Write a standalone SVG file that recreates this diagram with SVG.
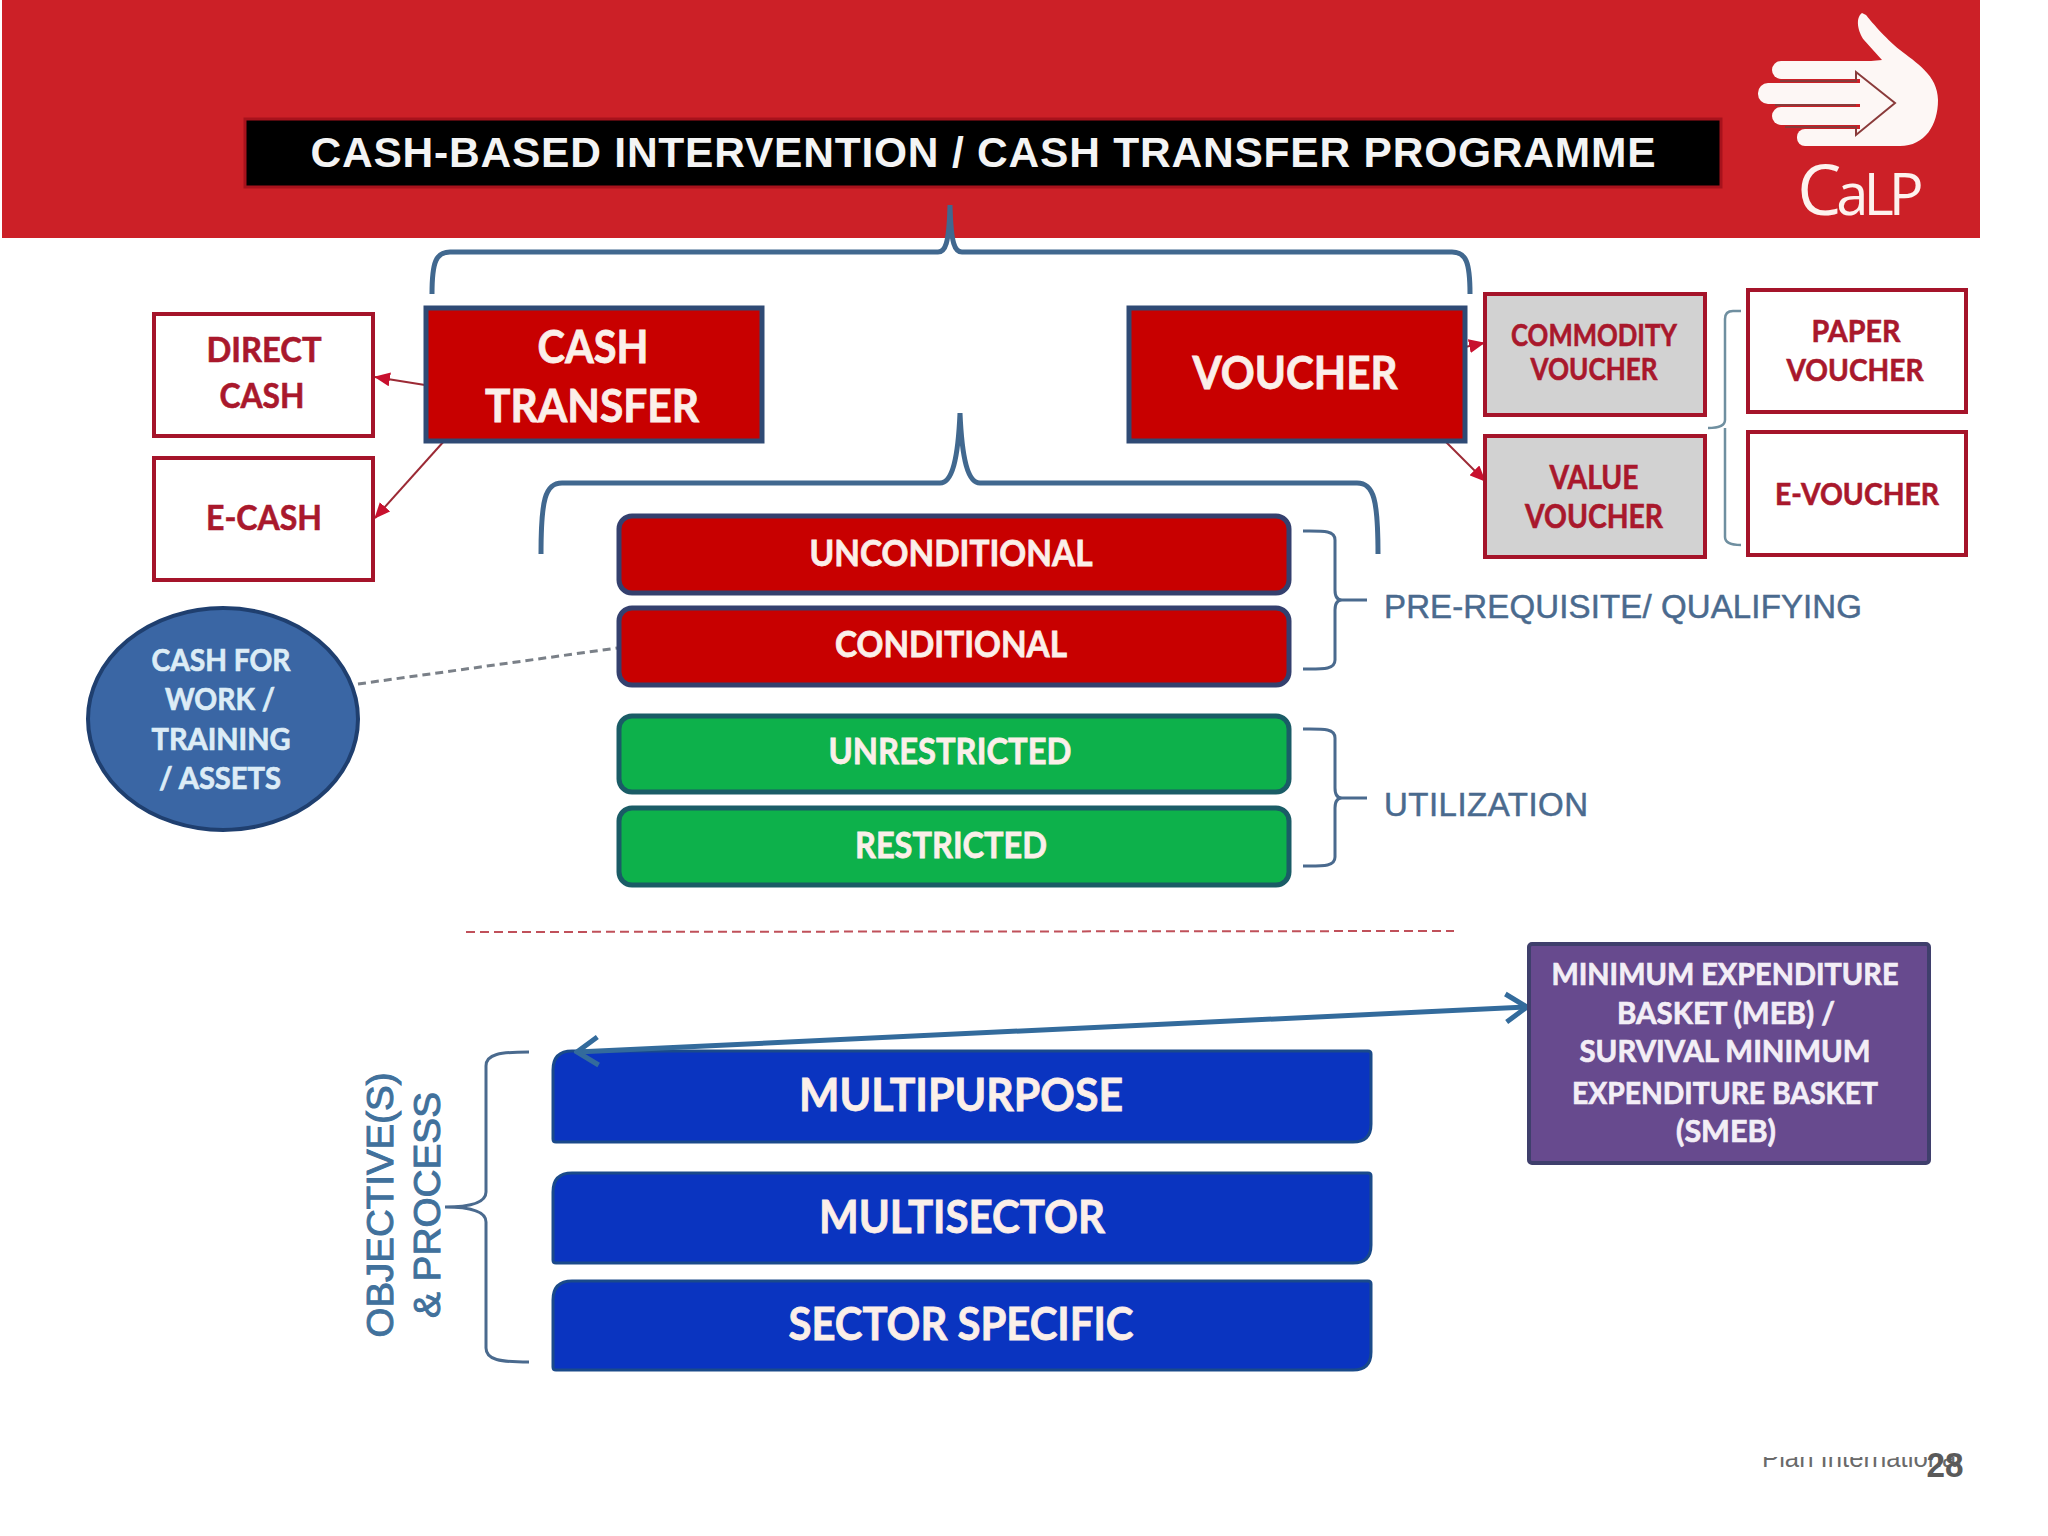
<svg xmlns="http://www.w3.org/2000/svg" width="2048" height="1536" viewBox="0 0 2048 1536">
<style>
text{font-family:"Lato","Open Sans","Liberation Sans",sans-serif;font-weight:700;text-anchor:middle}
.w{fill:#fbefe9;stroke:#fbefe9;stroke-width:.8}
.r{fill:#a9182c;stroke:#a9182c;stroke-width:.6}
.e{fill:#f3eef6;stroke:#f3eef6;stroke-width:.7}
.c{fill:#dcecf6;stroke:#dcecf6;stroke-width:.7}
.b{fill:#4a6a8e;stroke:#4a6a8e;stroke-width:.5;font-family:"Liberation Sans",sans-serif;font-weight:400;text-anchor:start}
.v{fill:#41719c;stroke:#41719c;stroke-width:1;font-family:"Liberation Sans",sans-serif;font-weight:400}
.redbox{fill:#fff;stroke:#a5142a;stroke-width:4}
.greybox{fill:#d2d2d2;stroke:#a5142a;stroke-width:4}
.main{fill:#c80000;stroke:#2f4a75;stroke-width:5}
.redr{fill:#c80000;stroke:#34406e;stroke-width:5}
.grn{fill:#0db14b;stroke:#1a5c66;stroke-width:5}
.blu{fill:#0a34c0;stroke:#1a4a8a;stroke-width:3}
.br{fill:none;stroke:#4a6a8e;stroke-width:3}
.br2{fill:none;stroke:#41688f;stroke-width:5}
.lk{fill:none;stroke:#9c2a35;stroke-width:2;marker-end:url(#ah)}
</style>
<defs>
<marker id="ah" markerUnits="userSpaceOnUse" markerWidth="16" markerHeight="14" refX="15" refY="7" orient="auto"><path d="M0 0L16 7L0 14z" fill="#c8102e"/></marker>
<marker id="op" markerUnits="userSpaceOnUse" markerWidth="28" markerHeight="36" refX="25" refY="18" orient="auto-start-reverse"><path d="M4 4L25 18L4 32" fill="none" stroke="#336b9c" stroke-width="5"/></marker>
<clipPath id="footclip"><rect x="1700" y="1457" width="348" height="79"/></clipPath>
</defs>
<rect width="2048" height="1536" fill="#fff"/>
<g id="banner">
<rect x="2" y="0" width="1978" height="238" fill="#cc2027"/>
<rect x="245" y="119" width="1476" height="68" fill="#000" stroke="#a8121c" stroke-width="3"/>
<text x="983" y="167" font-size="42.5" fill="#f4f4f4" style="font-family:'Liberation Sans',sans-serif" textLength="1345" lengthAdjust="spacing">CASH-BASED INTERVENTION / CASH TRANSFER PROGRAMME</text>
</g>
<g id="logo">
<path d="M1862 13C1855 18 1858 32 1864 40L1882 60L1860 62L1860 146L1900 146C1925 146 1938 125 1938 100C1938 75 1915 62 1900 50C1885 38 1870 20 1866 15Z" fill="#fdf7f5"/>
<rect x="1772" y="61" width="110" height="18" rx="9" fill="#fdf7f5"/>
<rect x="1758" y="83" width="120" height="21" rx="10" fill="#fdf7f5"/>
<rect x="1772" y="107" width="110" height="18" rx="9" fill="#fdf7f5"/>
<rect x="1797" y="129" width="90" height="17" rx="8" fill="#fdf7f5"/>
<path d="M1780 81H1856V72L1895 103L1856 135V127H1785M1775 105H1856" fill="none" stroke="#8a3a3a" stroke-width="2"/>
<text x="1858" y="215" font-size="58" letter-spacing="-5" fill="#fdf2ee" style="font-family:'Open Sans',sans-serif;font-weight:400"><tspan font-size="70">C</tspan>aLP</text>
</g>
<g id="connectors">
<path class="br2" d="M432 294C432 262 436 252 450 252H938C945 252 949 245 950 205C951 245 955 252 962 252H1452C1466 252 1470 262 1470 294"/>
<path class="br2" d="M541 554C541 500 545 483 562 483H940C952 483 958 460 960 413C962 460 968 483 980 483H1357C1374 483 1378 500 1378 554"/>
<path class="br" d="M1303 531C1322 531 1335 530 1335 540V590Q1335 600 1342 600H1367M1342 600Q1335 600 1335 610V660C1335 670 1322 669 1303 669"/>
<path class="br" d="M1303 729C1322 729 1335 728 1335 738V788Q1335 798 1342 798H1367M1342 798Q1335 798 1335 808V857C1335 867 1322 866 1303 866"/>
<path class="br" style="stroke:#6f8fa0;stroke-width:2.5" d="M1741 311H1733Q1725 311 1725 319V420Q1725 428 1708 428M1725 428V537Q1725 545 1741 545"/>
<path class="br" d="M529 1052C500 1052 486 1054 486 1066V1192C486 1203 470 1207 445 1207C470 1207 486 1211 486 1222V1348C486 1360 500 1362 529 1362"/>
<path class="lk" d="M425 385L375 377"/>
<path class="lk" d="M445 440L375 518"/>
<path class="lk" d="M1465 347L1484 343"/>
<path class="lk" d="M1446 442L1485 481"/>
<path d="M358 684L617 648" fill="none" stroke="#7a8088" stroke-width="3" stroke-dasharray="8 5"/>
<path d="M466 932L1454 931" fill="none" stroke="#c0505a" stroke-width="2" stroke-dasharray="9 5"/>
</g>
<g id="cash-transfer"><rect class="main" x="426" y="308" width="336" height="133"/><text class="w" x="593" y="363" font-size="46" textLength="111" lengthAdjust="spacingAndGlyphs">CASH</text><text class="w" x="592" y="422" font-size="46" textLength="214" lengthAdjust="spacingAndGlyphs">TRANSFER</text></g>
<g id="voucher"><rect class="main" x="1129" y="308" width="336" height="133"/><text class="w" x="1295" y="389" font-size="46" textLength="205" lengthAdjust="spacingAndGlyphs">VOUCHER</text></g>
<g id="direct-cash"><rect class="redbox" x="154" y="314" width="219" height="122"/><text class="r" x="264" y="362" font-size="34" textLength="115" lengthAdjust="spacingAndGlyphs">DIRECT</text><text class="r" x="262" y="408" font-size="34" textLength="85" lengthAdjust="spacingAndGlyphs">CASH</text></g>
<g id="e-cash"><rect class="redbox" x="154" y="458" width="219" height="122"/><text class="r" x="264" y="530" font-size="34" textLength="116" lengthAdjust="spacingAndGlyphs">E-CASH</text></g>
<g id="commodity-voucher"><rect class="greybox" x="1485" y="294" width="220" height="121"/><text class="r" x="1594" y="346" font-size="30" textLength="166" lengthAdjust="spacingAndGlyphs">COMMODITY</text><text class="r" x="1594" y="380" font-size="30" textLength="127" lengthAdjust="spacingAndGlyphs">VOUCHER</text></g>
<g id="value-voucher"><rect class="greybox" x="1485" y="436" width="220" height="121"/><text class="r" x="1594" y="489" font-size="32" textLength="89" lengthAdjust="spacingAndGlyphs">VALUE</text><text class="r" x="1594" y="528" font-size="32" textLength="138" lengthAdjust="spacingAndGlyphs">VOUCHER</text></g>
<g id="paper-voucher"><rect class="redbox" x="1748" y="290" width="218" height="122"/><text class="r" x="1856" y="342" font-size="31" textLength="89" lengthAdjust="spacingAndGlyphs">PAPER</text><text class="r" x="1855" y="381" font-size="31" textLength="137" lengthAdjust="spacingAndGlyphs">VOUCHER</text></g>
<g id="e-voucher"><rect class="redbox" x="1748" y="432" width="218" height="123"/><text class="r" x="1857" y="505" font-size="31" textLength="164" lengthAdjust="spacingAndGlyphs">E-VOUCHER</text></g>
<g id="unconditional"><rect class="redr" x="619" y="516" width="670" height="77" rx="13"/><text class="w" x="951" y="566" font-size="37" textLength="283" lengthAdjust="spacingAndGlyphs">UNCONDITIONAL</text></g>
<g id="conditional"><rect class="redr" x="619" y="608" width="670" height="77" rx="13"/><text class="w" x="951" y="657" font-size="37" textLength="232" lengthAdjust="spacingAndGlyphs">CONDITIONAL</text></g>
<g id="unrestricted"><rect class="grn" x="619" y="716" width="670" height="76" rx="13"/><text class="w" x="950" y="764" font-size="37" textLength="243" lengthAdjust="spacingAndGlyphs">UNRESTRICTED</text></g>
<g id="restricted"><rect class="grn" x="619" y="808" width="670" height="77" rx="13"/><text class="w" x="951" y="858" font-size="37" textLength="192" lengthAdjust="spacingAndGlyphs">RESTRICTED</text></g>
<text class="b" x="1384" y="618" font-size="33" textLength="478" lengthAdjust="spacing">PRE-REQUISITE/ QUALIFYING</text>
<text class="b" x="1384" y="816" font-size="33" textLength="204" lengthAdjust="spacing">UTILIZATION</text>
<g id="cash-for-work"><ellipse cx="223" cy="719" rx="135" ry="111" fill="#3a66a4" stroke="#1f3f6f" stroke-width="4"/><text class="c" x="221" y="671" font-size="31" textLength="139" lengthAdjust="spacingAndGlyphs">CASH FOR</text><text class="c" x="220" y="710" font-size="31" textLength="110" lengthAdjust="spacingAndGlyphs">WORK /</text><text class="c" x="221" y="750" font-size="31" textLength="139" lengthAdjust="spacingAndGlyphs">TRAINING</text><text class="c" x="220" y="789" font-size="31" textLength="122" lengthAdjust="spacingAndGlyphs">/ ASSETS</text></g>
<g id="multipurpose"><path class="blu" d="M572 1051H1368Q1371 1051 1371 1054V1124Q1371 1142 1353 1142H556Q553 1142 553 1139V1070Q553 1051 572 1051Z"/><text class="w" x="961" y="1111" font-size="45" textLength="324" lengthAdjust="spacingAndGlyphs">MULTIPURPOSE</text></g>
<g id="multisector"><path class="blu" d="M572 1173H1368Q1371 1173 1371 1176V1245Q1371 1263 1353 1263H556Q553 1263 553 1260V1192Q553 1173 572 1173Z"/><text class="w" x="962" y="1233" font-size="45" textLength="286" lengthAdjust="spacingAndGlyphs">MULTISECTOR</text></g>
<g id="sector-specific"><path class="blu" d="M572 1281H1368Q1371 1281 1371 1284V1352Q1371 1370 1353 1370H556Q553 1370 553 1367V1300Q553 1281 572 1281Z"/><text class="w" x="961" y="1340" font-size="45" textLength="345" lengthAdjust="spacingAndGlyphs">SECTOR SPECIFIC</text></g>
<path d="M577 1052L1527 1007" fill="none" stroke="#336b9c" stroke-width="5" marker-start="url(#op)" marker-end="url(#op)"/>
<g id="meb"><rect x="1529" y="944" width="400" height="219" rx="3" fill="#674a8e" stroke="#3f3f6c" stroke-width="4"/><text class="e" x="1725" y="985" font-size="31" textLength="347" lengthAdjust="spacingAndGlyphs">MINIMUM EXPENDITURE</text><text class="e" x="1726" y="1024" font-size="31" textLength="218" lengthAdjust="spacingAndGlyphs">BASKET (MEB) /</text><text class="e" x="1725" y="1062" font-size="31" textLength="291" lengthAdjust="spacingAndGlyphs">SURVIVAL MINIMUM</text><text class="e" x="1725" y="1104" font-size="31" textLength="306" lengthAdjust="spacingAndGlyphs">EXPENDITURE BASKET</text><text class="e" x="1726" y="1142" font-size="31" textLength="100" lengthAdjust="spacingAndGlyphs">(SMEB)</text></g>
<text class="v" transform="translate(393 1205) rotate(-90)" font-size="37" textLength="265" lengthAdjust="spacingAndGlyphs">OBJECTIVE(S)</text>
<text class="v" transform="translate(440 1205) rotate(-90)" font-size="37" textLength="226" lengthAdjust="spacingAndGlyphs">&amp; PROCESS</text>
<g id="footer">
<text x="1762" y="1467" clip-path="url(#footclip)" font-size="26" fill="#6a6a6a" style="text-anchor:start;font-family:'Liberation Sans',sans-serif;font-weight:400" textLength="200" lengthAdjust="spacingAndGlyphs">Plan International</text>
<text x="1945" y="1477" font-size="35" fill="#5a5a5a" style="font-family:'Liberation Sans',sans-serif" textLength="37" lengthAdjust="spacingAndGlyphs">28</text>
</g>
</svg>
